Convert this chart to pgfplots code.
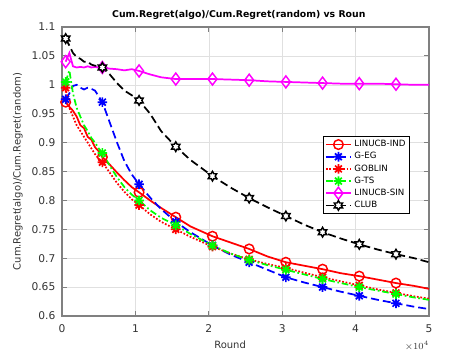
\documentclass[border=0pt]{standalone}
\usepackage{pgfplots}
\pgfplotsset{compat=1.18}
\usepackage{fontspec}
\setmainfont{DejaVu Sans}
\definecolor{mmag}{rgb}{1,0,1}
\definecolor{mgreen}{rgb}{0,1,0}
\pgfdeclareplotmark{hexagram}{%
  \pgfpathmoveto{\pgfpointpolar{90}{\pgfplotmarksize}}%
  \pgfpathlineto{\pgfpointpolar{120}{0.577\pgfplotmarksize}}%
  \pgfpathlineto{\pgfpointpolar{150}{\pgfplotmarksize}}%
  \pgfpathlineto{\pgfpointpolar{180}{0.577\pgfplotmarksize}}%
  \pgfpathlineto{\pgfpointpolar{210}{\pgfplotmarksize}}%
  \pgfpathlineto{\pgfpointpolar{240}{0.577\pgfplotmarksize}}%
  \pgfpathlineto{\pgfpointpolar{270}{\pgfplotmarksize}}%
  \pgfpathlineto{\pgfpointpolar{300}{0.577\pgfplotmarksize}}%
  \pgfpathlineto{\pgfpointpolar{330}{\pgfplotmarksize}}%
  \pgfpathlineto{\pgfpointpolar{0}{0.577\pgfplotmarksize}}%
  \pgfpathlineto{\pgfpointpolar{30}{\pgfplotmarksize}}%
  \pgfpathlineto{\pgfpointpolar{60}{0.577\pgfplotmarksize}}%
  \pgfpathclose
  \pgfusepathqfillstroke}
\pgfdeclareplotmark{mstar}{%
  \pgfpathmoveto{\pgfqpoint{-\pgfplotmarksize}{0pt}}\pgfpathlineto{\pgfqpoint{\pgfplotmarksize}{0pt}}%
  \pgfpathmoveto{\pgfqpoint{0pt}{-\pgfplotmarksize}}\pgfpathlineto{\pgfqpoint{0pt}{\pgfplotmarksize}}%
  \pgfpathmoveto{\pgfpointpolar{45}{\pgfplotmarksize}}\pgfpathlineto{\pgfpointpolar{225}{\pgfplotmarksize}}%
  \pgfpathmoveto{\pgfpointpolar{135}{\pgfplotmarksize}}\pgfpathlineto{\pgfpointpolar{315}{\pgfplotmarksize}}%
  \pgfusepathqstroke}
\pgfplotstableread{
x     ind    eg     gob    ts     sin    club
500   0.970  0.975  0.995  1.005  1.040  1.080
1000  0.962  0.985  0.960  1.025  1.055  1.068
1500  0.955  0.998  0.945  0.985  1.032  1.055
2000  0.945  1.000  0.930  0.960  1.030  1.048
2500  0.930  0.995  0.920  0.945  1.031  1.045
3000  0.925  0.992  0.910  0.930  1.030  1.040
3500  0.910  0.995  0.900  0.920  1.032  1.040
4000  0.905  0.993  0.890  0.908  1.030  1.035
4500  0.892  0.990  0.880  0.900  1.031  1.033
5000  0.885  0.980  0.872  0.890  1.030  1.033
5500  0.875  0.970  0.866  0.882  1.030  1.030
6500  0.862  0.935  0.848  0.860  1.028  1.018
7500  0.848  0.900  0.830  0.840  1.027  1.003
8500  0.835  0.868  0.815  0.823  1.025  0.990
9500  0.823  0.845  0.802  0.810  1.027  0.982
10500 0.814  0.828  0.792  0.800  1.024  0.973
12000 0.800  0.805  0.776  0.783  1.018  0.950
13500 0.787  0.785  0.763  0.770  1.013  0.920
15500 0.771  0.763  0.750  0.757  1.010  0.893
17500 0.755  0.745  0.737  0.742  1.010  0.870
20500 0.738  0.722  0.720  0.722  1.010  0.842
23000 0.727  0.706  0.708  0.708  1.009  0.822
25500 0.716  0.693  0.698  0.697  1.008  0.804
28000 0.703  0.680  0.690  0.688  1.006  0.788
30500 0.693  0.667  0.683  0.680  1.005  0.773
33000 0.687  0.658  0.675  0.672  1.004  0.758
35500 0.681  0.650  0.667  0.664  1.003  0.745
38000 0.674  0.642  0.660  0.657  1.002  0.734
40500 0.669  0.635  0.653  0.650  1.002  0.724
43000 0.663  0.628  0.646  0.644  1.002  0.715
45500 0.657  0.622  0.640  0.638  1.001  0.707
48000 0.652  0.616  0.634  0.632  1.000  0.700
50000 0.647  0.612  0.630  0.628  1.000  0.693
}\datatable
\begin{document}
\begin{tikzpicture}
\useasboundingbox (0,0) rectangle (355.5pt,266.25pt);
\begin{axis}[
  at={(46.5pt,29.25pt)}, anchor=south west,
  scale only axis, width=275.25pt, height=216.75pt,
  xmin=0, xmax=50000, ymin=0.6, ymax=1.1,
  xtick={0,10000,20000,30000,40000,50000},
  ytick={0.6,0.65,...,1.1},
  yticklabels={0.6,0.65,0.7,0.75,0.8,0.85,0.9,0.95,1,1.05,1.1},
  scaled x ticks=base 10:-4,
  tick scale binop=\times,
  every x tick scale label/.style={at={(axis description cs:0.967,-0.09)}, anchor=center, inner sep=0pt, font=\fontsize{7.5}{9}\selectfont, text=black!80},
  /pgf/number format/assume math mode=true,
  tick label style={font=\fontsize{8}{9}\selectfont, text=black!80},
  yticklabel style={xshift=-1.5pt},
  xticklabel style={yshift=-3pt},
  grid=major,
  major grid style={black!12, line width=0.4pt},
  axis line style={black!50, line width=1pt},
  tick style={black!50, line width=0.8pt},
  major tick length=4pt,
  title={\textbf{Cum.Regret(algo)/Cum.Regret(random) vs Roun}},
  title style={font=\fontsize{7}{9}\selectfont, yshift=-4pt, xshift=-5pt},
  xlabel={Round},
  xlabel style={font=\fontsize{7.5}{9}\selectfont, text=black!80, at={(axis description cs:0.458,-0.1)}, anchor=center},
  ylabel={Cum.Regret(algo)/Cum.Regret(random)},
  ylabel style={font=\fontsize{7.5}{9}\selectfont, text=black!80, at={(axis description cs:-0.12,0.5)}, anchor=center},
  legend style={at={(0.948,0.623)}, anchor=north east, font=\fontsize{6.5}{7.5}\selectfont, draw=black, line width=0.6pt, inner sep=1pt, row sep=-1.2pt, fill=white},
  legend cell align=left,
  legend image code/.code={\draw[mark indices={2}] plot coordinates {(0cm,0cm) (0.33cm,0cm) (0.66cm,0cm)};},
  every axis plot/.append style={line width=1.3pt, mark indices={1,11,16,19,21,23,25,27,29,31}},
]
\addplot[red, solid, mark=o, mark size=3.6pt, mark options={fill=white, solid, line width=1.1pt}] table[x=x,y=ind] {\datatable};
\addlegendentry{LINUCB-IND}
\addplot[blue, dash pattern=on 6pt off 3pt, mark=mstar, mark size=3.6pt, mark options={solid, line width=1.3pt}] table[x=x,y=eg] {\datatable};
\addlegendentry{G-EG}
\addplot[red, dash pattern=on 1.3pt off 1.3pt, mark=mstar, mark size=3.6pt, mark options={solid, line width=1.3pt}] table[x=x,y=gob] {\datatable};
\addlegendentry{GOBLIN}
\addplot[mgreen, dash pattern=on 5pt off 2pt on 1.3pt off 2pt, mark=mstar, mark size=3.6pt, mark options={solid, line width=1.3pt}] table[x=x,y=ts] {\datatable};
\addlegendentry{G-TS}
\addplot[mmag, solid, mark=diamond, mark size=4.5pt, mark options={fill=white, solid, line width=1.1pt}] table[x=x,y=sin] {\datatable};
\addlegendentry{LINUCB-SIN}
\addplot[black, dash pattern=on 6pt off 3pt, mark=hexagram, mark size=3.6pt, mark options={fill=white, solid, line width=1.1pt}] table[x=x,y=club] {\datatable};
\addlegendentry{CLUB}
\end{axis}
\end{tikzpicture}
\end{document}
